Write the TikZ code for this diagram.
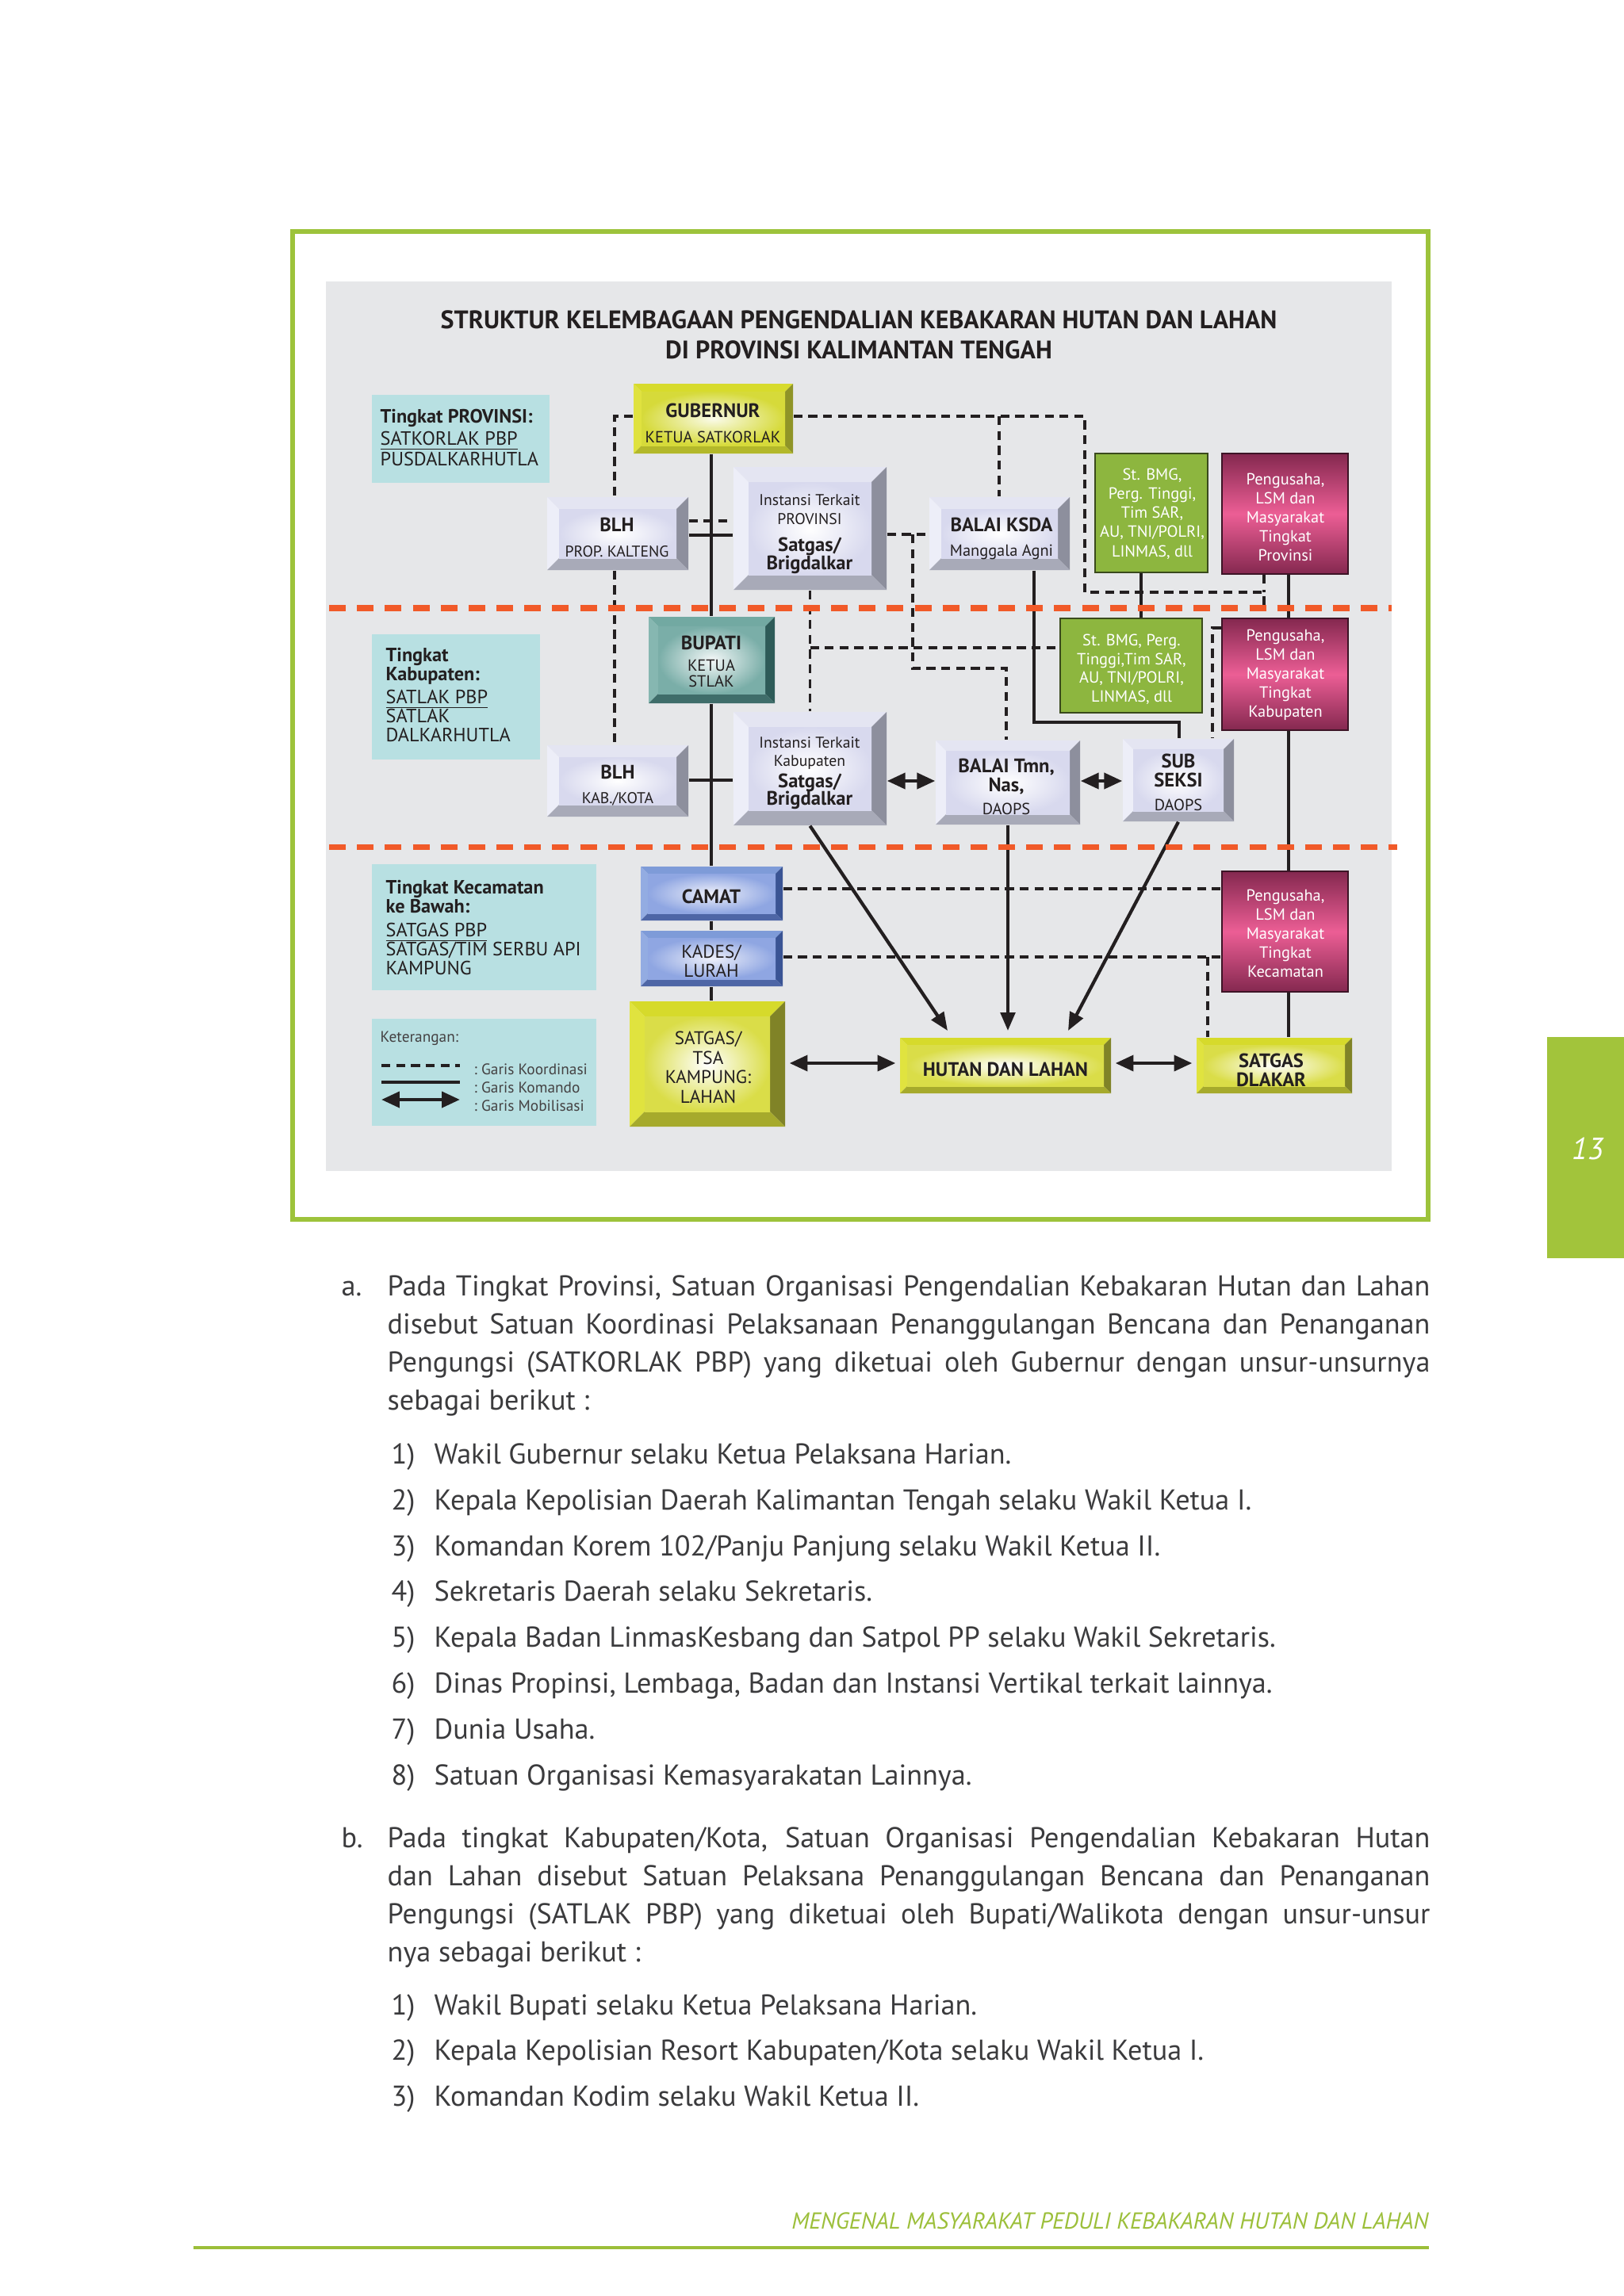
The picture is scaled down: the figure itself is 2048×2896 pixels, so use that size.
\documentclass[tikz,border=0pt]{standalone}
\usepackage{fontspec}
\setmainfont{PT Sans}
\usetikzlibrary{arrows.meta,fit}

\definecolor{framegreen}{HTML}{9DC33B}
\definecolor{panel}{HTML}{E6E7E9}
\definecolor{orangeL}{HTML}{F15A29}
\definecolor{cyanbox}{HTML}{B8E0E2}
\definecolor{bmggreen}{HTML}{8DB63F}
\definecolor{bmgborder}{HTML}{3A4A1C}
\definecolor{pinkdark}{HTML}{84284F}
\definecolor{pinkmid}{HTML}{EC5E95}
\definecolor{pinkborder}{HTML}{3D1426}
\definecolor{ink}{HTML}{231F20}
\definecolor{bodyink}{HTML}{3B3B3D}
\definecolor{tabgreen}{HTML}{A2C43B}
\definecolor{footgreen}{HTML}{9CBF3A}
% bevel schemes
\definecolor{greytop}{HTML}{E4E5F2}\definecolor{greyleft}{HTML}{EDEEF8}
\definecolor{greyright}{HTML}{8D8F9D}\definecolor{greybot}{HTML}{A8AAB8}
\definecolor{greyin}{HTML}{FFFFFF}\definecolor{greyout}{HTML}{D8D9EE}
\definecolor{gubtop}{HTML}{D7DB2D}\definecolor{gubleft}{HTML}{DFE23F}
\definecolor{gubright}{HTML}{8F9427}\definecolor{gubbot}{HTML}{B3B82A}
\definecolor{gubin}{HTML}{FAFBEA}\definecolor{gubout}{HTML}{D6DA3A}
\definecolor{buptop}{HTML}{72A9A2}\definecolor{bupleft}{HTML}{86B7B1}
\definecolor{bupright}{HTML}{2E5B58}\definecolor{bupbot}{HTML}{3F6D6A}
\definecolor{bupin}{HTML}{F4F8F8}\definecolor{bupout}{HTML}{7AAEA8}
\definecolor{bluetop}{HTML}{7E9BD8}\definecolor{blueleft}{HTML}{93ACE2}
\definecolor{blueright}{HTML}{3A5494}\definecolor{bluebot}{HTML}{4E66A6}
\definecolor{bluein}{HTML}{EEF0FA}\definecolor{blueout}{HTML}{8FA6E2}
\definecolor{yeltop}{HTML}{D6DA2B}\definecolor{yelleft}{HTML}{E0E33F}
\definecolor{yelright}{HTML}{808327}\definecolor{yelbot}{HTML}{A6AA2C}
\definecolor{yelin}{HTML}{FFFFFF}\definecolor{yelout}{HTML}{DADD48}

\newcommand\fTitle{\fontsize{9.1}{10}\selectfont\bfseries}
\newcommand\fBold{\fontsize{7}{8}\selectfont\bfseries}
\newcommand\fReg{\fontsize{5.8}{7}\selectfont}
\newcommand\fInst{\fontsize{5.6}{7}\selectfont}
\newcommand\fMid{\fontsize{6.6}{8}\selectfont}
\newcommand\fCol{\fontsize{5.8}{7}\selectfont}
\newcommand\fInfo{\fontsize{6.9}{8}\selectfont}
\newcommand\fInfoB{\fontsize{6.9}{8}\selectfont\bfseries}
\newcommand\fLeg{\fontsize{5.5}{7}\selectfont}
\newcommand\fBody{\fontsize{10.3}{13.7}\selectfont}
\newcommand\fFoot{\fontsize{8.3}{10}\selectfont\itshape}
\newcommand\fTab{\fontsize{11}{13}\selectfont\itshape}

% name, x1, y1, x2, y2, bevel, scheme
\newcommand\bevbox[7]{%
  \fill[#7top] (#2,#3) -- (#4,#3) -- ({#4-#6},{#3+#6}) -- ({#2+#6},{#3+#6}) -- cycle;
  \fill[#7left] (#2,#3) -- ({#2+#6},{#3+#6}) -- ({#2+#6},{#5-#6}) -- (#2,#5) -- cycle;
  \fill[#7right] (#4,#3) -- (#4,#5) -- ({#4-#6},{#5-#6}) -- ({#4-#6},{#3+#6}) -- cycle;
  \fill[#7bot] (#2,#5) -- (#4,#5) -- ({#4-#6},{#5-#6}) -- ({#2+#6},{#5-#6}) -- cycle;
  \shade[inner color=#7in, outer color=#7out] ({#2+#6},{#3+#6}) rectangle ({#4-#6},{#5-#6});
  \node[fit={(#2,#3) (#4,#5)}, inner sep=0pt] (#1) {};
}
% name prefix, style, x, y0, dy, list
\newcommand\stackl[6]{%
  \foreach \myl [count=\myi] in {#6}{\node[#2] (#1\myi) at (#3,{#4+(\myi-1)*#5}) {\myl};}}

\begin{document}
\begin{tikzpicture}[x=0.01cm,y=-0.01cm,
  txt/.style={inner sep=0pt, text height=.7em, text depth=0pt, text=ink},
  bl/.style={txt, font=\fBold},
  rg/.style={txt, font=\fReg},
  ins/.style={txt, font=\fInst},
  mid/.style={txt, font=\fMid},
  col/.style={txt, font=\fCol, text=white},
  inf/.style={txt, anchor=west, font=\fInfo},
  infb/.style={txt, anchor=west, font=\fInfoB},
  leg/.style={txt, anchor=west, font=\fLeg, text=ink!85},
  body/.style={inner sep=0pt, anchor=base west, font=\fBody, text=bodyink},
  pinkbox/.style={draw=pinkborder, line width=0.6pt, top color=pinkdark, bottom color=pinkdark, middle color=pinkmid, inner sep=0pt},
  greenbox/.style={draw=bmgborder, line width=0.6pt, fill=bmggreen, inner sep=0pt},
  cmd/.style={line width=1.2pt, draw=ink},
  coord/.style={line width=1.1pt, draw=ink, dash pattern=on 3.2pt off 2.1pt},
  cmdarrow/.style={cmd, -{Triangle[length=6.5pt,width=5.2pt]}},
  mob/.style={line width=1.3pt, draw=ink, {Triangle[length=6.5pt,width=5.6pt]}-{Triangle[length=6.5pt,width=5.6pt]}},
  orangeline/.style={line width=2pt, draw=orangeL, dash pattern=on 6pt off 4pt}
]
\useasboundingbox (0,0) rectangle (2048,2896);
\fill[white] (0,0) rectangle (2048,2896);

% frame and panel
\fill[panel] (411,355) rectangle (1755,1477);
\draw[framegreen, line width=1.5pt] (369,292) rectangle (1801,1538);

% title
\node[txt, font=\fTitle] (title1) at (1083,402) {STRUKTUR KELEMBAGAAN PENGENDALIAN KEBAKARAN HUTAN DAN LAHAN};
\node[txt, font=\fTitle] (title2) at (1083,440) {DI PROVINSI KALIMANTAN TENGAH};

% info boxes
\fill[cyanbox] (469,498) rectangle (693,609);
\fill[cyanbox] (469,800) rectangle (681,958);
\fill[cyanbox] (469,1090) rectangle (752,1249);
\fill[cyanbox] (469,1285) rectangle (752,1420);

% bevel boxes
\bevbox{gub}{799}{484}{1000}{572}{10}{gub}
\bevbox{blhp}{690}{627}{868}{719}{15}{grey}
\bevbox{insp}{925}{589}{1118}{744}{19}{grey}
\bevbox{ksda}{1172}{627}{1349}{719}{15}{grey}
\bevbox{bup}{818}{778}{977}{887}{12}{bup}
\bevbox{blhk}{690}{940}{868}{1030}{15}{grey}
\bevbox{insk}{925}{898}{1118}{1041}{19}{grey}
\bevbox{btn}{1180}{934}{1362}{1040}{13}{grey}
\bevbox{sub}{1416}{932}{1556}{1036}{13}{grey}
\bevbox{camat}{808}{1093}{987}{1161}{9}{blue}
\bevbox{kades}{808}{1174}{987}{1244}{9}{blue}
\bevbox{tsa}{794}{1263}{990}{1421}{19}{yel}
\bevbox{hutan}{1135}{1309}{1401}{1379}{9}{yel}
\bevbox{dlakar}{1509}{1309}{1705}{1379}{9}{yel}

% flat boxes
\node[greenbox, minimum width=1.42cm, minimum height=1.50cm] (bmgp) at (1452,647) {};
\node[greenbox, minimum width=1.79cm, minimum height=1.19cm] (bmgk) at (1426.5,839.5) {};
\node[pinkbox, minimum width=1.59cm, minimum height=1.52cm] (pgp) at (1620.5,648) {};
\node[pinkbox, minimum width=1.59cm, minimum height=1.41cm] (pgk) at (1620.5,850.5) {};
\node[pinkbox, minimum width=1.59cm, minimum height=1.52cm] (pgc) at (1620.5,1175) {};

% coordinates
\coordinate (tx) at (897,0);
\coordinate (px) at (1625,0);
\coordinate (yb1) at (0,675);
\coordinate (yb2) at (0,984);
\coordinate (ym) at (0,985);
\coordinate (ym2) at (0,1341);
\coordinate (k1) at (1304,911);
\coordinate (k2) at (1487,911);
\coordinate (g1) at (1439,0);
\coordinate (h1) at (1195,1300);
\coordinate (h3) at (1347,1300);
\coordinate (d1) at (775,525);
\coordinate (d2) at (1368,525);
\coordinate (d3) at (1368,747);
\coordinate (d4) at (1594,747);
\coordinate (d5) at (1594,770);
\coordinate (d6) at (1260,525);
\coordinate (d7) at (0,657);
\coordinate (d8) at (1151,674);
\coordinate (d9) at (1151,843);
\coordinate (d10) at (1269,843);
\coordinate (d12) at (0,817);
\coordinate (d13) at (1529,792);
\coordinate (d14) at (0,1121);
\coordinate (d15) at (0,1207);
\coordinate (d16) at (1523,1207);

% command lines
\draw[cmd] (gub.south -| tx) -- (bup.north -| tx);
\draw[cmd] (bup.south -| tx) -- (camat.north -| tx);
\draw[cmd] (camat.south -| tx) -- (kades.north -| tx);
\draw[cmd] (kades.south -| tx) -- (tsa.north -| tx);
\draw[cmd] (blhp.east |- yb1) -- (insp.west |- yb1);
\draw[cmd] (blhk.east |- yb2) -- (insk.west |- yb2);
\draw[cmd] (ksda.south -| k1) -- (k1) -- (k2) -- (sub.north -| k2);
\draw[cmd] (bmgp.south -| g1) -- (bmgk.north -| g1);
\draw[cmd] (pgp.south -| px) -- (pgk.north -| px);
\draw[cmd] (pgk.south -| px) -- (pgc.north -| px);
\draw[cmd] (pgc.south -| px) -- (dlakar.north -| px);
\draw[cmdarrow] (insk.south) -- (h1);
\draw[cmdarrow] (btn.south) -- (btn.south |- h1);
\draw[cmdarrow] (sub.south) -- (h3);

% coordination lines
\draw[coord] (gub.west |- d1) -- (d1) -- (blhp.north -| d1);
\draw[coord] (blhp.south -| d1) -- (blhk.north -| d1);
\draw[coord] (gub.east |- d1) -- (d2) -- (d3) -- (d4) -- (d5);
\draw[coord] (pgp.south -| d4) -- (d4);
\draw[coord] (d6) -- (ksda.north -| d6);
\draw[coord] (blhp.east |- d7) -- (insp.west |- d7);
\draw[coord] (insp.east |- d8) -- (ksda.west |- d8);
\draw[coord] (d8) -- (d9) -- (d10) -- (btn.north -| d10);
\draw[coord] (insp.south) -- (insk.north);
\draw[coord] (insp.south |- d12) -- (bmgk.west |- d12);
\draw[coord] (pgk.west |- d13) -- (d13) -- (sub.north -| d13);
\draw[coord] (camat.east |- d14) -- (pgc.west |- d14);
\draw[coord] (kades.east |- d15) -- (pgc.west |- d15);
\draw[coord] (d16) -- (dlakar.north -| d16);

% mobilisation
\draw[mob] (insk.east |- ym) -- (btn.west |- ym);
\draw[mob] (btn.east |- ym) -- (sub.west |- ym);
\draw[mob, shorten <=1.4pt, shorten >=1.4pt] (tsa.east |- ym2) -- (hutan.west |- ym2);
\draw[mob, shorten <=1.4pt, shorten >=1.4pt] (hutan.east |- ym2) -- (dlakar.west |- ym2);

% level separators
\coordinate (o1) at (415,767);
\coordinate (o2) at (1755,767);
\coordinate (o3) at (415,1068);
\coordinate (o4) at (1762,1068);
\draw[orangeline] (o1) -- (o2);
\draw[orangeline] (o3) -- (o4);

% box texts
\node[bl] (gubt1) at (899,514) {GUBERNUR};
\node[rg] (gubt2) at (899,546) {KETUA SATKORLAK};
\node[bl] (blhpt1) at (778,658) {BLH};
\node[ins] (blhpt2) at (778,690) {PROP. KALTENG};
\node[ins] (inspt1) at (1021,625) {Instansi Terkait};
\node[ins] (inspt2) at (1021,649) {PROVINSI};
\node[bl] (inspt3) at (1021,683) {Satgas/};
\node[bl] (inspt4) at (1021,706) {Brigdalkar};
\node[bl] (ksdat1) at (1263,658) {BALAI KSDA};
\node[rg] (ksdat2) at (1263,689) {Manggala Agni};
\stackl{bmgpt}{col}{1453}{593}{24.2}{{St. BMG,},{Perg. Tinggi,},{Tim SAR,},{AU, TNI/POLRI,},{LINMAS, dll}}
\stackl{pgpt}{col}{1621}{599}{24}{{Pengusaha,},{LSM dan},{Masyarakat},{Tingkat},{Provinsi}}
\node[bl] (bupt1) at (897,807) {BUPATI};
\node[rg] (bupt2) at (897,834) {KETUA};
\node[rg] (bupt3) at (897,854) {STLAK};
\stackl{bmgkt}{col}{1427}{802}{23.7}{{St. BMG, Perg.},{Tinggi,Tim SAR,},{AU, TNI/POLRI,},{LINMAS, dll}}
\stackl{pgkt}{col}{1621}{796}{24}{{Pengusaha,},{LSM dan},{Masyarakat},{Tingkat},{Kabupaten}}
\node[bl] (blhkt1) at (779,970) {BLH};
\node[ins] (blhkt2) at (779,1001) {KAB./KOTA};
\node[ins] (inskt1) at (1021,931) {Instansi Terkait};
\node[ins] (inskt2) at (1021,954) {Kabupaten};
\node[bl] (inskt3) at (1021,981) {Satgas/};
\node[bl] (inskt4) at (1021,1003) {Brigdalkar};
\node[bl] (btnt1) at (1269,962) {BALAI Tmn,};
\node[bl] (btnt2) at (1269,986) {Nas,};
\node[rg] (btnt3) at (1269,1015) {DAOPS};
\node[bl] (subt1) at (1486,956) {SUB};
\node[bl] (subt2) at (1486,980) {SEKSI};
\node[rg] (subt3) at (1486,1010) {DAOPS};
\node[bl] (camatt) at (897,1127) {CAMAT};
\node[mid] (kadest1) at (897,1196) {KADES/};
\node[mid] (kadest2) at (897,1220) {LURAH};
\stackl{tsat}{mid}{893}{1305}{24.7}{{SATGAS/},{TSA},{KAMPUNG:},{LAHAN}}
\node[bl] (hutant) at (1268,1345) {HUTAN DAN LAHAN};
\node[bl] (dlakart1) at (1603,1334) {SATGAS};
\node[bl] (dlakart2) at (1603,1358) {DLAKAR};
\stackl{pgct}{col}{1621}{1124}{24}{{Pengusaha,},{LSM dan},{Masyarakat},{Tingkat},{Kecamatan}}

% info texts
\node[infb] (ip1) at (479,521) {Tingkat PROVINSI:};
\node[inf] (ip2) at (479,549) {\underline{SATKORLAK PBP}};
\node[inf] (ip3) at (479,575) {PUSDALKARHUTLA};
\node[infb] (ik1) at (486,822) {Tingkat};
\node[infb] (ik2) at (486,846) {Kabupaten:};
\node[inf] (ik3) at (486,875) {\underline{SATLAK PBP}};
\node[inf] (ik4) at (486,899) {SATLAK};
\node[inf] (ik5) at (486,923) {DALKARHUTLA};
\node[infb] (ic1) at (486,1115) {Tingkat Kecamatan};
\node[infb] (ic2) at (486,1139) {ke Bawah:};
\node[inf] (ic3) at (486,1169) {\underline{SATGAS PBP}};
\node[inf] (ic4) at (486,1193) {SATGAS/TIM SERBU API};
\node[inf] (ic5) at (486,1217) {KAMPUNG};

% legend
\node[leg] (lg0) at (479,1302) {Keterangan:};
\coordinate (la) at (481,1344);
\coordinate (lb) at (580,1344);
\coordinate (lc) at (481,1365);
\coordinate (ld) at (580,1365);
\coordinate (le) at (481,1387);
\coordinate (lf) at (580,1387);
\draw[coord] (la) -- (lb);
\draw[cmd] (lc) -- (ld);
\draw[mob] (le) -- (lf);
\node[leg] (lg1) at (597,1343) {:\ Garis Koordinasi};
\node[leg] (lg2) at (597,1366) {:\ Garis Komando};
\node[leg] (lg3) at (597,1389) {:\ Garis Mobilisasi};

% body text
\node[body] (pa) at (430,1634) {a.};
\node[body] (pa1) at (488,1634) {\makebox[13.14cm][s]{Pada Tingkat Provinsi, Satuan Organisasi Pengendalian Kebakaran Hutan dan Lahan}};
\node[body] (pa2) at (488,1682) {\makebox[13.14cm][s]{disebut Satuan Koordinasi Pelaksanaan Penanggulangan Bencana dan Penanganan}};
\node[body] (pa3) at (488,1730) {\makebox[13.14cm][s]{Pengungsi (SATKORLAK PBP) yang diketuai oleh Gubernur dengan unsur-unsurnya}};
\node[body] (pa4) at (488,1778) {sebagai berikut :};
\foreach \nn/\yy/\tt in {1/1846/{Wakil Gubernur selaku Ketua Pelaksana Harian.},
  2/1904/{Kepala Kepolisian Daerah Kalimantan Tengah selaku Wakil Ketua I.},
  3/1962/{Komandan Korem 102/Panju Panjung selaku Wakil Ketua II.},
  4/2019/{Sekretaris Daerah selaku Sekretaris.},
  5/2077/{Kepala Badan LinmasKesbang dan Satpol PP selaku Wakil Sekretaris.},
  6/2135/{Dinas Propinsi, Lembaga, Badan dan Instansi Vertikal terkait lainnya.},
  7/2193/{Dunia Usaha.},
  8/2251/{Satuan Organisasi Kemasyarakatan Lainnya.}}{
  \node[body] (ian\nn) at (493,\yy) {\nn)};
  \node[body] (iat\nn) at (547,\yy) {\tt};
}
\node[body] (pb) at (430,2330) {b.};
\node[body] (pb1) at (488,2330) {\makebox[13.14cm][s]{Pada tingkat Kabupaten/Kota, Satuan Organisasi Pengendalian Kebakaran Hutan}};
\node[body] (pb2) at (488,2378) {\makebox[13.14cm][s]{dan Lahan disebut Satuan Pelaksana Penanggulangan Bencana dan Penanganan}};
\node[body] (pb3) at (488,2426) {\makebox[13.14cm][s]{Pengungsi (SATLAK PBP) yang diketuai oleh Bupati/Walikota dengan unsur-unsur}};
\node[body] (pb4) at (488,2474) {nya sebagai berikut :};
\foreach \nn/\yy/\tt in {1/2541/{Wakil Bupati selaku Ketua Pelaksana Harian.},
  2/2598/{Kepala Kepolisian Resort Kabupaten/Kota selaku Wakil Ketua I.},
  3/2656/{Komandan Kodim selaku Wakil Ketua II.}}{
  \node[body] (ibn\nn) at (493,\yy) {\nn)};
  \node[body] (ibt\nn) at (547,\yy) {\tt};
}

% side tab and footer
\fill[tabgreen] (1951,1308) rectangle (2048,1587);
\node[txt, font=\fTab, text=white] (pagenum) at (2002,1450) {13};
\node[inner sep=0pt, anchor=base east, font=\fFoot, text=footgreen] (foot) at (1802,2811) {MENGENAL MASYARAKAT PEDULI KEBAKARAN HUTAN DAN LAHAN};
\draw[footgreen, line width=1.4pt] (244,2835) -- (1802,2835);
\end{tikzpicture}
\end{document}
